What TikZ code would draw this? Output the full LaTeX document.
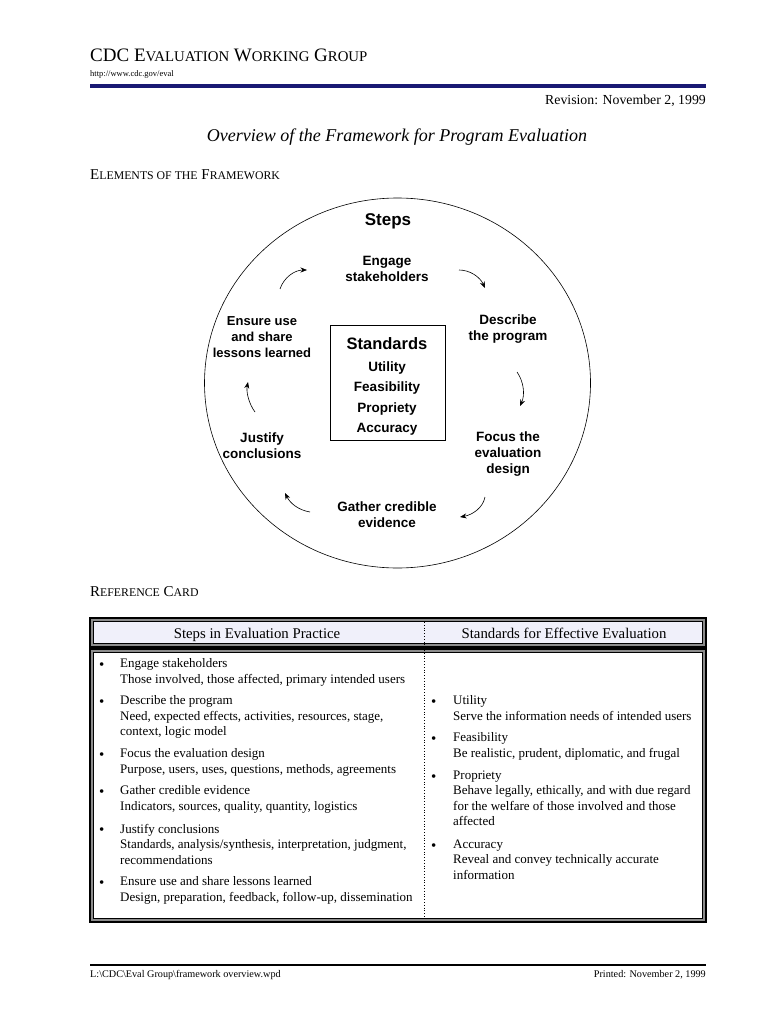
\documentclass[tikz,border=0pt]{standalone}
\usepackage{fontspec}
\setmainfont{Liberation Serif}
\newfontfamily\lsans{Liberation Sans}
\usetikzlibrary{arrows.meta,shapes.geometric}
\definecolor{navy}{RGB}{25,25,115}
\definecolor{hdrfill}{RGB}{240,240,250}
\newcommand{\fs}[1]{\fontsize{#1}{#1}\selectfont}
\begin{document}
\begin{tikzpicture}[x=1pt,y=-1pt,
  every node/.style={inner sep=0pt},
  lbl/.style={font=\lsans\bfseries\fontsize{13.5}{16.3}\selectfont, align=center},
  stdi/.style={font=\lsans\bfseries\fontsize{13.5}{13.5}\selectfont},
  ttxt/.style={font=\fontsize{13}{15.5}\selectfont, align=left, anchor=north west, yshift=10.85pt, execute at begin node=\strut},
  bul/.style={font=\fontsize{15}{15.5}\selectfont, anchor=base west},
  flow/.style={-{Stealth[length=6.5pt,width=5pt]}, line width=0.6pt},
  rule/.style={line width=2pt}]
\useasboundingbox (0,0) rectangle (768,1024);
\fill[white] (0,0) rectangle (768,1024);

% ---------- page header ----------
\node[anchor=base west] (hdr) at (90,62) {{\fs{19}CDC E}{\fs{14.8}VALUATION}{\fs{19} W}{\fs{14.8}ORKING}{\fs{19} G}{\fs{14.8}ROUP}};
\node[anchor=base west, font=\fs{8.5}] (url) at (90,77) {http://www.cdc.gov/eval};
\coordinate (bl) at (90,86);
\coordinate (br) at (706,86);
\draw[navy, line width=4pt] (bl) -- (br);
\node[anchor=base east, font=\fs{13.8}] (rev) at (706,105) {Revision: November 2, 1999};
\node[anchor=base, font=\itshape\fs{18}] (title) at (397,142) {Overview of the Framework for Program Evaluation};
\node[anchor=base west] (elem) at (90,180) {{\fs{15}E}{\fs{11.8}LEMENTS OF THE}{\fs{15} F}{\fs{11.8}RAMEWORK}};

% ---------- circle diagram ----------
\node[draw, ellipse, line width=0.6pt, minimum width=386, minimum height=370] (circ) at (397.5,383) {};
\node[font=\lsans\bfseries\fs{17}] (steps) at (388,221) {Steps};
\node[lbl] (engage) at (387,269) {Engage\\stakeholders};
\node[lbl] (describe) at (508,329) {Describe\\the program};
\node[lbl] (focus) at (508,454) {Focus the\\evaluation\\design};
\node[lbl] (gather) at (387,515) {Gather credible\\evidence};
\node[lbl] (justify) at (262,446) {Justify\\conclusions};
\node[lbl, font=\lsans\bfseries\fontsize{13}{16.3}\selectfont] (ensure) at (262,337) {Ensure use\\and share\\lessons learned};

\node[draw, line width=0.8pt, minimum width=115, minimum height=115] (stdbox) at (387.5,382.5) {};
\node[font=\lsans\bfseries\fs{16.5}] (stdtitle) at (387,344) {Standards};
\node[stdi] (s1) at (387,368) {Utility};
\node[stdi] (s2) at (387,388) {Feasibility};
\node[stdi] (s3) at (387,409) {Propriety};
\node[stdi] (s4) at (387,429) {Accuracy};

\coordinate (a1s) at (280,289); \coordinate (a1e) at (307,270);
\coordinate (a2s) at (459,270); \coordinate (a2e) at (485,288);
\coordinate (a3s) at (517,372); \coordinate (a3e) at (520,406);
\coordinate (a4s) at (485,497); \coordinate (a4e) at (460,517);
\coordinate (a5s) at (310,512); \coordinate (a5e) at (285,493);
\coordinate (a6s) at (255,412); \coordinate (a6e) at (248,382);
\draw[flow] (a1s) .. controls (284,277) and (295,270) .. (a1e);
\draw[flow] (a2s) .. controls (470,270) and (480,277) .. (a2e);
\draw[flow] (a3s) .. controls (524,382) and (525,395) .. (a3e);
\draw[flow] (a4s) .. controls (483,508) and (472,515) .. (a4e);
\draw[flow] (a5s) .. controls (298,510) and (290,503) .. (a5e);
\draw[flow] (a6s) .. controls (249,404) and (246,392) .. (a6e);

% ---------- reference card ----------
\node[anchor=base west] (refc) at (90,596) {{\fs{15}R}{\fs{11.8}EFERENCE}{\fs{15} C}{\fs{11.8}ARD}};

% header box
\fill[black!45] (90,618) rectangle (706,647);
\draw[line width=1.6pt] (90,618) rectangle (706,647);
\fill[hdrfill] (93.5,621.5) rectangle (702.5,643.5);
\draw[line width=0.7pt] (93.5,621.5) rectangle (702.5,643.5);
% body box
\fill[black!45] (90,649) rectangle (706,922);
\draw[line width=1.6pt] (90,649) rectangle (706,922);
\draw[line width=2.4pt] (706,650) -- (706,922) -- (91,922);
\fill[white] (93.5,652.5) rectangle (702.5,918.5);
\draw[line width=0.7pt] (93.5,652.5) rectangle (702.5,918.5);
\coordinate (dvt) at (424,622);
\coordinate (dvb) at (424,918);
\draw[dotted, line width=0.8pt] (dvt) -- (dvb);

\node[font=\fs{14.8}, anchor=base] (h1) at (257,638.5) {Steps in Evaluation Practice};
\node[font=\fs{14.8}, anchor=base] (h2) at (564,638.5) {Standards for Effective Evaluation};

\node[bul] (b1) at (99,669.5) {•};
\node[ttxt] (t1) at (120,669.5) {Engage stakeholders\\Those involved, those affected, primary intended users};
\node[bul] (b2) at (99,706.5) {•};
\node[ttxt] (t2) at (120,706.5) {Describe the program\\Need, expected effects, activities, resources, stage,\\context, logic model};
\node[bul] (b3) at (99,759.5) {•};
\node[ttxt] (t3) at (120,759.5) {Focus the evaluation design\\Purpose, users, uses, questions, methods, agreements};
\node[bul] (b4) at (99,796.5) {•};
\node[ttxt] (t4) at (120,796.5) {Gather credible evidence\\Indicators, sources, quality, quantity, logistics};
\node[bul] (b5) at (99,834.5) {•};
\node[ttxt] (t5) at (120,834.5) {Justify conclusions\\Standards, analysis/synthesis, interpretation, judgment,\\recommendations};
\node[bul] (b6) at (99,887.5) {•};
\node[ttxt] (t6) at (120,887.5) {Ensure use and share lessons learned\\Design, preparation, feedback, follow-up, dissemination};

\node[bul] (r1b) at (431,706.5) {•};
\node[ttxt] (r1) at (453,706.5) {Utility\\Serve the information needs of intended users};
\node[bul] (r2b) at (431,743.5) {•};
\node[ttxt] (r2) at (453,743.5) {Feasibility\\Be realistic, prudent, diplomatic, and frugal};
\node[bul] (r3b) at (431,781.5) {•};
\node[ttxt] (r3) at (453,781.5) {Propriety\\Behave legally, ethically, and with due regard\\for the welfare of those involved and those\\affected};
\node[bul] (r4b) at (431,850.5) {•};
\node[ttxt] (r4) at (453,850.5) {Accuracy\\Reveal and convey technically accurate\\information};

% ---------- footer ----------
\coordinate (fl) at (90,965);
\coordinate (fr) at (706,965);
\draw[rule] (fl) -- (fr);
\node[anchor=base west, font=\fs{10.2}] (ft1) at (90,977) {L:\textbackslash CDC\textbackslash Eval Group\textbackslash framework overview.wpd};
\node[anchor=base east, font=\fs{10.2}] (ft2) at (706,977) {Printed: November 2, 1999};
\end{tikzpicture}
\end{document}
